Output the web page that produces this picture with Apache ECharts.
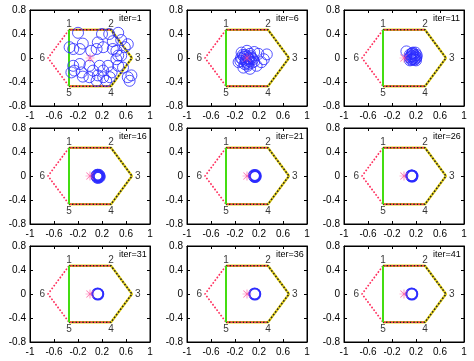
<!DOCTYPE html>
<html><head><meta charset="utf-8">
<script src="https://cdn.jsdelivr.net/npm/echarts@6/dist/echarts.min.js"></script>
<style>html,body{margin:0;padding:0;background:#fff}#c{width:474px;height:361px}</style>
</head><body><div id="c"></div><script>
// ---- data ----
const xTicks = [-1, -0.6, -0.2, 0.2, 0.6, 1];
const yTicks = [-0.8, -0.4, 0, 0.4, 0.8];
const hexX = [-0.35, 0.35, 0.7, 0.35, -0.35, -0.7];
const hexY = [0.47, 0.47, 0, -0.47, -0.47, 0];
const vertexNames = ['1', '2', '3', '4', '5', '6'];
const iterNums = [1, 6, 11, 16, 21, 26, 31, 36, 41];
const target = [0, 0];
const iter1 = [[-0.20,0.42],[0.20,0.40],[0.32,0.40],[0.47,0.42],[0.38,0.28],[0.52,0.30],[0.13,0.26],[-0.12,0.24],[-0.17,0.15],[-0.28,0.15],[-0.34,0.18],[0.02,0.12],[0.11,0.15],[0.22,0.18],[0.38,0.15],[0.44,0.12],[0.58,0.18],[0.47,0.04],[0.44,-0.02],[0.52,0.04],[0.63,0.23],[-0.28,-0.13],[-0.26,-0.21],[-0.31,-0.24],[-0.14,-0.24],[-0.12,-0.31],[-0.01,-0.13],[0.16,-0.13],[0.22,-0.21],[0.30,-0.13],[0.36,-0.24],[0.13,-0.29],[0.22,-0.32],[0.27,-0.38],[0.11,-0.38],[-0.01,-0.32],[0.33,-0.32],[0.47,-0.13],[0.55,-0.16],[0.63,-0.32],[0.69,-0.29],[0.66,-0.38],[0.05,-0.21],[-0.17,-0.10]];
const iter6 = [[0.0,0.12],[0.19,0.07],[0.33,0.06],[0.24,-0.07],[-0.09,0.09],[-0.14,-0.07],[0.16,-0.13],[0.05,-0.18],[-0.06,-0.16],[0.12,0.1],[0.28,-0.02],[-0.05,0.02],[-0.02,-0.03],[0.02,0.0],[0.04,-0.05],[-0.08,-0.02],[0.0,-0.08],[0.06,0.03],[-0.03,0.05],[0.08,-0.08],[-0.1,0.0],[0.1,-0.02],[0.02,-0.1],[-0.04,-0.1],[0.05,0.07],[-0.07,0.05],[0.0,0.03],[0.03,-0.02],[-0.02,-0.06],[0.08,0.0],[-0.11,-0.05],[0.12,-0.06],[0.01,-0.13]];
const iter11 = [[0.04,0.11],[0.1,0.06],[0.14,0.08],[0.19,0.09],[0.21,0.05],[0.2,0.0],[0.17,-0.03],[0.12,-0.03],[0.1,0.01],[0.14,0.03],[0.18,0.04],[0.15,-0.01],[0.2,-0.04],[0.1,-0.04],[0.13,0.07],[0.16,0.06],[0.21,0.02],[0.13,-0.02],[0.17,0.01],[0.11,0.03],[0.19,-0.02],[0.15,0.09]];
const iter16 = [[0.12,0.0],[0.13,-0.02],[0.14,0.01],[0.15,-0.01],[0.13,0.02],[0.12,-0.03],[0.16,0.0],[0.14,-0.03],[0.11,0.01],[0.15,0.02],[0.13,0.0],[0.14,-0.01],[0.12,0.02],[0.16,-0.02],[0.11,-0.01]];
const iter21 = [[0.13,0.0],[0.14,-0.01],[0.12,0.01],[0.13,-0.01],[0.14,0.01],[0.125,0.0]];
const iter26 = [[0.13,0.0],[0.135,-0.005],[0.125,0.005],[0.13,0.005],[0.135,0.0]];
const iter31 = [[0.13,0.0],[0.133,-0.003],[0.127,0.003]];
const iter36 = [[0.13,0.0],[0.133,-0.003],[0.127,0.003]];
const iter41 = [[0.13,0.0],[0.133,-0.003],[0.127,0.003]];
const particles = [iter1, iter6, iter11, iter16, iter21, iter26, iter31, iter36, iter41];

// ---- layout ----
const colLeft = [30, 187, 344], rowTop = [10, 128, 246];
const gw = 120, gh = 96;
const FONT = 'Liberation Sans, Arial, sans-serif';
const labelPos = ['top', 'top', 'right', 'bottom', 'bottom', 'left'];
const pt = i => [hexX[i], hexY[i]];
const asterisk = 'path://M0 9.2L20 9.2L20 10.8L0 10.8Z M9.2 0L10.8 0L10.8 20L9.2 20Z M2.6 1.4L18.6 17.4L17.4 18.6L1.4 2.6Z M17.4 1.4L18.6 2.6L2.6 18.6L1.4 17.4Z';

const grids = [], xAxes = [], yAxes = [], series = [], titles = [];
for (let k = 0; k < 9; k++) {
  const r = Math.floor(k / 3), c = k % 3;
  grids.push({left: colLeft[c], top: rowTop[r], width: gw, height: gh, show: true, borderColor: '#000', borderWidth: 1, backgroundColor: '#fff'});
  const axBase = {gridIndex: k, type: 'value', splitLine: {show: false},
    axisLine: {show: true, onZero: false, lineStyle: {color: '#000', width: 1}},
    axisTick: {show: true, inside: true, length: 3, lineStyle: {color: '#000'}}};
  xAxes.push(Object.assign({}, axBase, {position: 'bottom', min: xTicks[0], max: xTicks[xTicks.length-1], interval: 0.4,
    axisLabel: {color: '#000', fontSize: 10, fontFamily: FONT, margin: 5, formatter: v => String(Math.round(v*10)/10)}}));
  xAxes.push(Object.assign({}, axBase, {position: 'top', min: xTicks[0], max: xTicks[xTicks.length-1], interval: 0.4, axisLabel: {show: false}}));
  yAxes.push(Object.assign({}, axBase, {position: 'left', min: yTicks[0], max: yTicks[yTicks.length-1], interval: 0.4,
    axisLabel: {color: '#000', fontSize: 10, fontFamily: FONT, margin: 4, formatter: v => String(Math.round(v*10)/10)}}));
  yAxes.push(Object.assign({}, axBase, {position: 'right', min: yTicks[0], max: yTicks[yTicks.length-1], interval: 0.4, axisLabel: {show: false}}));
  const xi = 2*k, yi = 2*k;
  const lineBase = {type: 'line', xAxisIndex: xi, yAxisIndex: yi, symbol: 'none', silent: true, animation: false};
  series.push(Object.assign({}, lineBase, {data: [0,1,2,3,4].map(pt), lineStyle: {color: '#e6d21a', width: 2.4}, z: 2}));
  series.push(Object.assign({}, lineBase, {data: [0,1,2,3,4].map(pt), lineStyle: {color: '#222', width: 1.5, type: [1.7, 1.7]}, z: 3}));
  series.push(Object.assign({}, lineBase, {data: [3,4,5,0,1].map(pt), lineStyle: {color: '#ff2a5a', width: 1.6, type: [1.7, 1.7], dashOffset: 1.7}, z: 4}));
  series.push(Object.assign({}, lineBase, {data: [0,4].map(pt), lineStyle: {color: '#44dd11', width: 2}, z: 5}));
  series.push({type: 'scatter', xAxisIndex: xi, yAxisIndex: yi, symbolSize: 0, silent: true, animation: false, z: 6,
    data: hexX.map((x, i) => ({value: pt(i), label: {show: true, formatter: vertexNames[i], position: labelPos[i], distance: (labelPos[i]==='top'?1:(labelPos[i]==='bottom'?2:3)), color: '#000', fontSize: 10, fontFamily: FONT}}))});
  series.push({type: 'scatter', xAxisIndex: xi, yAxisIndex: yi, symbol: 'circle', symbolSize: 11, silent: true, animation: false, z: 7,
    itemStyle: {color: 'rgba(0,0,0,0)', borderColor: '#2a2aff', borderWidth: k >= 4 ? 1.6 : 1}, data: particles[k]});
  series.push({type: 'scatter', xAxisIndex: xi, yAxisIndex: yi, symbol: asterisk, symbolSize: 9, silent: true, animation: false, z: 8,
    itemStyle: {color: '#ff4f9a'}, data: [target]});
  titles.push({text: 'iter=' + iterNums[k], left: colLeft[c] + 89, top: rowTop[r] + 4,
    textStyle: {fontSize: 9, fontWeight: 'normal', color: '#000', fontFamily: FONT}, padding: 0});
}
const chart = echarts.init(document.getElementById('c'), null, {renderer: 'canvas'});
chart.setOption({backgroundColor: '#fff', animation: false, title: titles, grid: grids, xAxis: xAxes, yAxis: yAxes, series: series});
</script></body></html>
